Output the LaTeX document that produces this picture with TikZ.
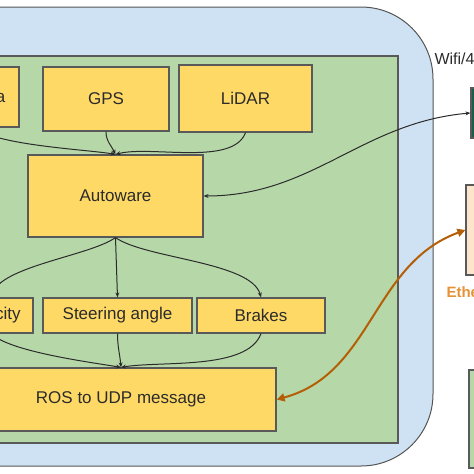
\documentclass[tikz,border=0pt]{standalone}
\usepackage{fontspec}
\setmainfont{Liberation Sans}
\usetikzlibrary{arrows.meta}
\definecolor{skyblue}{HTML}{CFE2F3}
\definecolor{leafgreen}{HTML}{B6D7A8}
\definecolor{butter}{HTML}{FFD966}
\definecolor{peach}{HTML}{FCE5CD}
\definecolor{deepteal}{HTML}{1B5C4A}
\definecolor{rust}{HTML}{B45F06}
\definecolor{amber}{HTML}{E69138}
\definecolor{edge}{HTML}{595959}
\definecolor{ink}{HTML}{2B2B2B}

\begin{document}
\begin{tikzpicture}[x=1pt, y=-1pt, line width=1pt,
  block/.style={draw=edge, fill=#1, line width=1.2pt, inner sep=0pt,
    font=\fontsize{17}{20}\selectfont, text=ink},
  block/.default=butter,
  link/.style={draw=ink, line width=1pt, -{Stealth[length=5pt, width=4pt]}},
  duplex/.style={draw=ink, line width=1pt, {Stealth[length=5pt, width=4pt]}-{Stealth[length=5pt, width=4pt]}},
  wired/.style={draw=rust, line width=2pt, {Triangle[length=8pt, width=8pt]}-{Triangle[length=8pt, width=8pt]}}]

% Frame
\useasboundingbox (0,0) rectangle (474,474);
\clip (0,0) rectangle (474,474);

% Vehicle and on-board computer
\draw[draw=ink!80, fill=skyblue, line width=1pt, rounded corners=72pt] (-80,7) rectangle (433,466);
\draw[draw=edge, fill=leafgreen, line width=1.2pt] (-80,56) rectangle (398,443);

% Sensors
\node[block, minimum width=88pt, minimum height=60pt] (camera) at (-25,97) {Camera};
\node[block, minimum width=126pt, minimum height=64pt] (gps) at (106,99) {GPS};
\node[block, minimum width=133pt, minimum height=67pt] (lidar) at (245.5,98.5) {LiDAR};

% Autoware
\node[block, minimum width=175pt, minimum height=82pt] (autoware) at (115.5,196) {Autoware};

% Commands
\node[block, minimum width=83.5pt, minimum height=35pt] (velocity) at (-8.75,315.5) {Velocity};
\node[block, minimum width=149pt, minimum height=35pt] (steering) at (117.5,315.5) {Steering angle};
\node[block, minimum width=128pt, minimum height=35pt] (brakes) at (261,315.5) {Brakes};

% Bridge
\node[block, minimum width=310pt, minimum height=63pt] (ros) at (121,399.5) {ROS to UDP message};

% Outside boxes
\node[block=deepteal, minimum width=68pt, minimum height=50pt] (remote) at (505,113) {};
\node[block=peach, minimum width=74pt, minimum height=90pt] (plant) at (503,230) {};
\node[block=leafgreen, minimum width=71pt, minimum height=98pt] (sim) at (504.5,419) {};

% Link labels
\node[anchor=west, inner sep=0pt, text=ink, font=\fontsize{16}{18}\selectfont] (wifi) at (434,59) {Wifi/4G};
\node[anchor=west, inner sep=0pt, text=amber, font=\fontsize{15}{17}\selectfont\bfseries] (ether) at (446,292) {Ethernet};

% Sensors to Autoware
\draw[link] (camera.south) to[out=-40, in=170, looseness=0.5] (autoware.north);
\draw[link] (gps.south) to[out=-90, in=115] (autoware.north);
\draw[link] (lidar.south) to[out=-110, in=15, looseness=0.7] (autoware.north);

% Autoware to commands
\draw[link] (autoware.south) to[out=-145, in=75, looseness=0.6] (velocity.north);
\draw[link] (autoware.south) -- (steering.north);
\draw[link] (autoware.south) to[out=-35, in=105, looseness=0.6] (brakes.north);

% Commands to bridge
\draw[link] (velocity.south) to[out=-45, in=170, looseness=0.5] (ros.north);
\draw[link] (steering.south) to[out=-90, in=95] (ros.north);
\draw[link] (brakes.south) to[out=-110, in=10, looseness=0.7] (ros.north);

% Wireless and wired links
\draw[duplex] (autoware.east) to[out=0, in=185] (remote.west);
\draw[wired] (ros.east) to[out=15, in=200] (plant.west);

\end{tikzpicture}
\end{document}
